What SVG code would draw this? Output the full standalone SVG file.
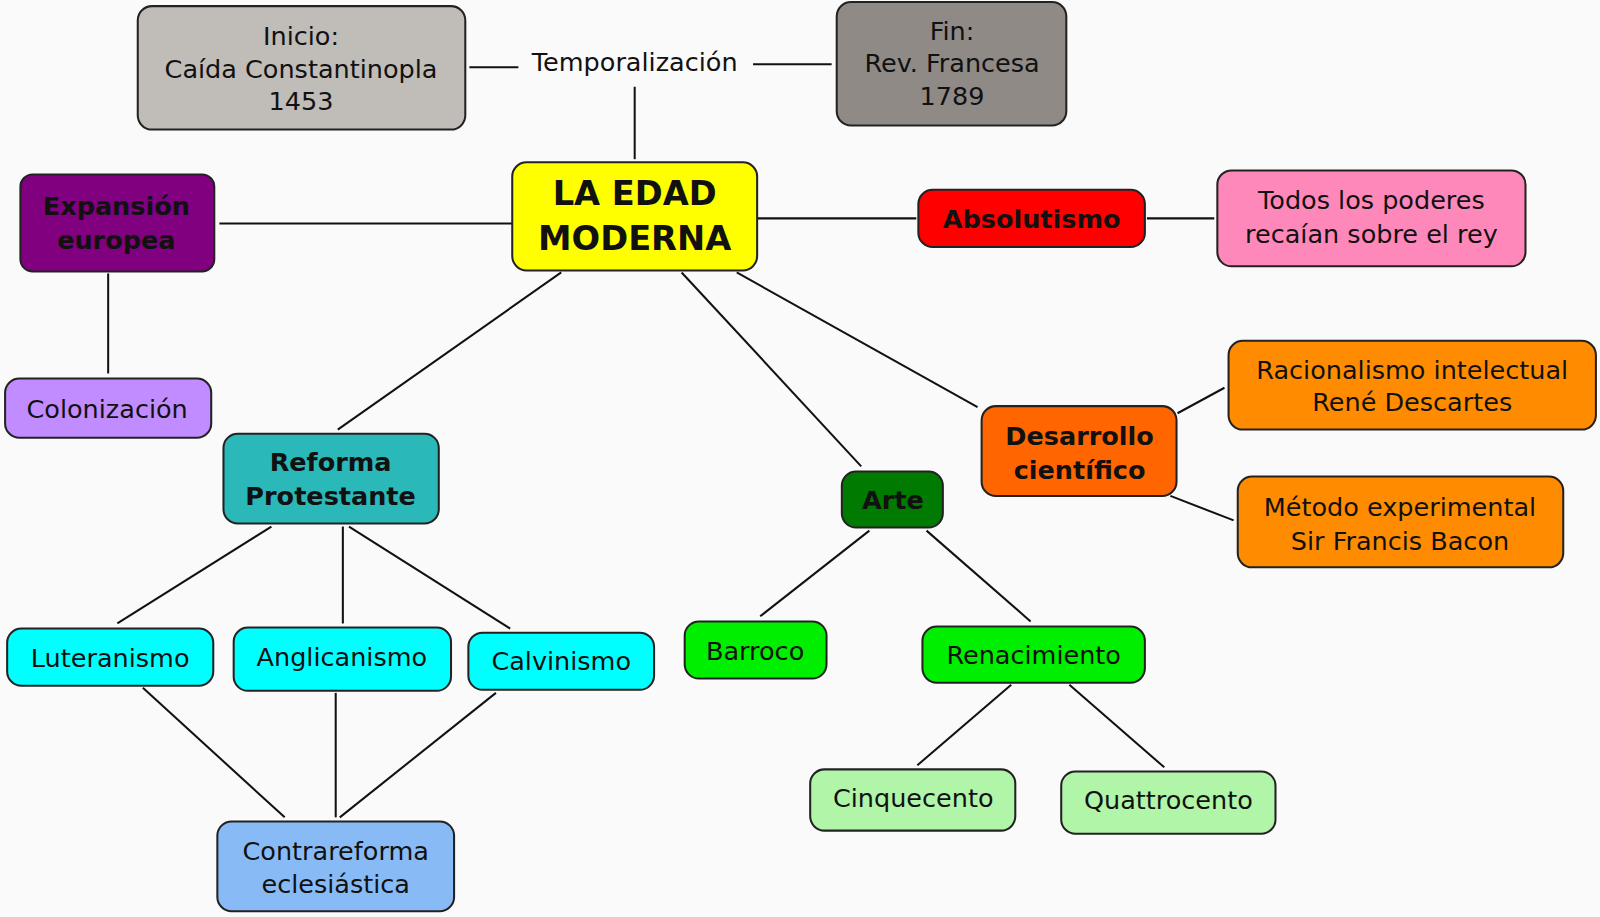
<svg xmlns="http://www.w3.org/2000/svg" width="1600" height="917" viewBox="0 0 1600 917">
<style>
rect{stroke:#222;stroke-width:2}
text{font-family:"DejaVu Sans",Verdana,sans-serif;font-size:25px;text-anchor:middle;fill:#111}
.b{font-weight:bold}
#conn line{stroke:#111;stroke-width:2}
</style>
<rect width="1600" height="917" fill="#fafafa" style="stroke:none"/>
<g transform="scale(1.0204)">
<g id="conn">
<line x1="460" y1="66" x2="508" y2="66"/><line x1="738" y1="63" x2="815" y2="63"/>
<line x1="622" y1="85" x2="622" y2="156"/><line x1="215" y1="219" x2="502" y2="219"/>
<line x1="106" y1="268" x2="106" y2="366"/><line x1="742" y1="214" x2="898" y2="214"/>
<line x1="1124" y1="214" x2="1190" y2="214"/><line x1="550" y1="267" x2="331" y2="421"/>
<line x1="668" y1="267" x2="844" y2="457"/><line x1="722" y1="267" x2="958" y2="399"/>
<line x1="1154" y1="405" x2="1200" y2="380"/><line x1="1147" y1="486" x2="1209" y2="510"/>
<line x1="266" y1="516" x2="115" y2="611"/><line x1="336" y1="516" x2="336" y2="611"/>
<line x1="342" y1="516" x2="500" y2="616"/><line x1="852" y1="520" x2="745" y2="604"/>
<line x1="908" y1="520" x2="1010" y2="609"/><line x1="140" y1="674" x2="279" y2="801"/>
<line x1="329" y1="679" x2="329" y2="801"/><line x1="486" y1="679" x2="333" y2="801"/>
<line x1="991" y1="671" x2="899" y2="750"/><line x1="1048" y1="671" x2="1141" y2="752"/>
</g>
<g id="inicio"><rect x="135" y="6" width="321" height="121" rx="14" fill="#c0bcb8"/><text x="295" y="44">Inicio:</text><text x="295" y="76">Caída Constantinopla</text><text x="295" y="108">1453</text></g>
<g id="temp"><text x="622" y="70">Temporalización</text></g>
<g id="fin"><rect x="820" y="2" width="225" height="121" rx="14" fill="#8f8a86"/><text x="933" y="39">Fin:</text><text x="933" y="71">Rev. Francesa</text><text x="933" y="103">1789</text></g>
<g id="edad"><rect x="502" y="159" width="240" height="106" rx="14" fill="#ffff00"/><text class="b" x="622" y="201" style="font-size:33px">LA EDAD</text><text class="b" x="622" y="245" style="font-size:33px">MODERNA</text></g>
<g id="expansion"><rect x="20" y="171" width="190" height="95" rx="12" fill="#800080"/><text class="b" x="114" y="211">Expansión</text><text class="b" x="114" y="244">europea</text></g>
<g id="colonizacion"><rect x="5" y="371" width="202" height="58" rx="14" fill="#c08cff"/><text x="105" y="410">Colonización</text></g>
<g id="absolutismo"><rect x="900" y="186" width="222" height="56" rx="14" fill="#ff0000"/><text class="b" x="1011" y="223">Absolutismo</text></g>
<g id="poderes"><rect x="1193" y="167" width="302" height="94" rx="14" fill="#ff88bb"/><text x="1344" y="205">Todos los poderes</text><text x="1344" y="238">recaían sobre el rey</text></g>
<g id="reforma"><rect x="219" y="425" width="211" height="88" rx="14" fill="#2ab8b8"/><text class="b" x="324" y="462">Reforma</text><text class="b" x="324" y="495">Protestante</text></g>
<g id="arte"><rect x="825" y="462" width="99" height="55" rx="14" fill="#007a00"/><text class="b" x="875" y="499">Arte</text></g>
<g id="desarrollo"><rect x="962" y="398" width="191" height="88" rx="14" fill="#ff6600"/><text class="b" x="1058" y="436">Desarrollo</text><text class="b" x="1058" y="469">científico</text></g>
<g id="racionalismo"><rect x="1204" y="334" width="360" height="87" rx="14" fill="#ff8c00"/><text x="1384" y="371">Racionalismo intelectual</text><text x="1384" y="403">René Descartes</text></g>
<g id="metodo"><rect x="1213" y="467" width="319" height="89" rx="14" fill="#ff8c00"/><text x="1372" y="506">Método experimental</text><text x="1372" y="539">Sir Francis Bacon</text></g>
<g id="luteranismo"><rect x="7" y="616" width="202" height="56" rx="14" fill="#00ffff"/><text x="108" y="654">Luteranismo</text></g>
<g id="anglicanismo"><rect x="229" y="615" width="213" height="62" rx="14" fill="#00ffff"/><text x="335" y="653">Anglicanismo</text></g>
<g id="calvinismo"><rect x="459" y="620" width="182" height="56" rx="14" fill="#00ffff"/><text x="550" y="657">Calvinismo</text></g>
<g id="barroco"><rect x="671" y="609" width="139" height="56" rx="14" fill="#00ee00"/><text x="740" y="647">Barroco</text></g>
<g id="renacimiento"><rect x="904" y="614" width="218" height="55" rx="14" fill="#00ee00"/><text x="1013" y="651">Renacimiento</text></g>
<g id="cinquecento"><rect x="794" y="754" width="201" height="60" rx="14" fill="#b0f5a8"/><text x="895" y="791">Cinquecento</text></g>
<g id="quattrocento"><rect x="1040" y="756" width="210" height="61" rx="14" fill="#b0f5a8"/><text x="1145" y="793">Quattrocento</text></g>
<g id="contrareforma"><rect x="213" y="805" width="232" height="88" rx="14" fill="#88bbf5"/><text x="329" y="843">Contrareforma</text><text x="329" y="875">eclesiástica</text></g>
</g>
</svg>
